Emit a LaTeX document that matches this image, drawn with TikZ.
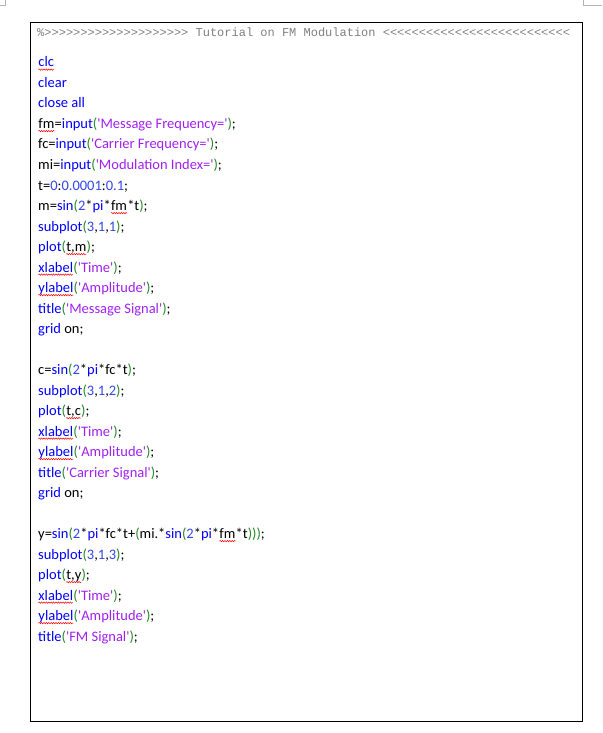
\documentclass[tikz,border=0pt]{standalone}
\usepackage{fontspec}
\usetikzlibrary{decorations.pathmorphing}
\newfontfamily\codefont{Carlito}
\newfontfamily\monofont{Liberation Mono}
\definecolor{kw}{RGB}{0,0,255}
\definecolor{par}{RGB}{34,139,34}
\definecolor{str}{RGB}{160,32,240}
\definecolor{num}{RGB}{50,70,235}
\definecolor{hdr}{RGB}{128,128,128}
\newcommand\K[1]{\textcolor{kw}{#1}}
\newcommand\Pp[1]{\textcolor{par}{#1}}
\newcommand\Ss[1]{\textcolor{str}{#1}}
\newcommand\N[1]{\textcolor{num}{#1}}
\tikzset{squig/.style={red,line width=0.5pt,decorate,decoration={snake,amplitude=0.7pt,segment length=2.4pt}}}
\newcommand\sqc[2]{\tikz[baseline=(s.base)]{\node[inner sep=0pt,outer sep=0pt,anchor=center,text=#1] (s) {#2}; \draw[squig] ([yshift=-2.6pt]s.base west) -- ([yshift=-2.6pt]s.base east);}}
\newcommand\sq[1]{\sqc{black}{#1}}
\newcommand\sqk[1]{\sqc{kw}{#1}}
\tikzset{code/.style={anchor=base west,inner sep=0pt,font=\codefont\fontsize{14.5}{17}\selectfont}}
\begin{document}
\begin{tikzpicture}[x=1pt,y=-1pt]
\useasboundingbox (0,0) rectangle (602,733);
\draw[gray!60,line width=0.8pt] (0,5.5) -- (5.5,5.5) -- (5.5,0);
\draw[gray!60,line width=0.8pt] (602,5.5) -- (583.5,5.5) -- (583.5,0);
\node[draw=black,line width=0.9pt,minimum width=552pt,minimum height=698pt,inner sep=0pt,anchor=north west] (frame) at (29.5,22.5) {};
\node[anchor=base west,inner sep=0pt,text=hdr,font=\monofont\fontsize{12}{14}\selectfont] (hdr) at (37,37) {\%>>>>>>>>>>>>>>>>>>>> Tutorial on FM Modulation <<<<<<<<<<<<<<<<<<<<<<<<<<};
\def\L#1#2#3{\node[code] (#1) at (38,#2) {#3};}
\L{l1}{67}{\sqk{clc}}
\L{l2}{87.5}{\K{clear}}
\L{l3}{108}{\K{close all}}
\L{l4}{128.5}{\sq{fm}=\K{input}\Pp{(}\Ss{'Message Frequency='}\Pp{)};}
\L{l5}{149}{fc=\K{input}\Pp{(}\Ss{'Carrier Frequency='}\Pp{)};}
\L{l6}{169.5}{mi=\K{input}\Pp{(}\Ss{'Modulation Index='}\Pp{)};}
\L{l7}{190}{t=\N{0}:\N{0.0001}:\N{0.1};}
\L{l8}{210.5}{m=\K{sin}\Pp{(}\N{2}*\K{pi}*\sq{fm}*t\Pp{)};}
\L{l9}{231}{\K{subplot}\Pp{(}\N{3},\N{1},\N{1}\Pp{)};}
\L{l10}{251.5}{\K{plot}\Pp{(}\sq{t,m}\Pp{)};}
\L{l11}{272}{\sqk{xlabel}\Pp{(}\Ss{'Time'}\Pp{)};}
\L{l12}{292.5}{\sqk{ylabel}\Pp{(}\Ss{'Amplitude'}\Pp{)};}
\L{l13}{313}{\K{title}\Pp{(}\Ss{'Message Signal'}\Pp{)};}
\L{l14}{333.5}{\K{grid} on;}
\L{l15}{374.5}{c=\K{sin}\Pp{(}\N{2}*\K{pi}*fc*t\Pp{)};}
\L{l16}{395}{\K{subplot}\Pp{(}\N{3},\N{1},\N{2}\Pp{)};}
\L{l17}{415.5}{\K{plot}\Pp{(}\sq{t,c}\Pp{)};}
\L{l18}{436}{\sqk{xlabel}\Pp{(}\Ss{'Time'}\Pp{)};}
\L{l19}{456.5}{\sqk{ylabel}\Pp{(}\Ss{'Amplitude'}\Pp{)};}
\L{l20}{477}{\K{title}\Pp{(}\Ss{'Carrier Signal'}\Pp{)};}
\L{l21}{497.5}{\K{grid} on;}
\L{l22}{538.5}{y=\K{sin}\Pp{(}\N{2}*\K{pi}*fc*t+\Pp{(}mi.*\K{sin}\Pp{(}\N{2}*\K{pi}*\sq{fm}*t\Pp{)))};}
\L{l23}{559}{\K{subplot}\Pp{(}\N{3},\N{1},\N{3}\Pp{)};}
\L{l24}{579.5}{\K{plot}\Pp{(}\sq{t,y}\Pp{)};}
\L{l25}{600}{\sqk{xlabel}\Pp{(}\Ss{'Time'}\Pp{)};}
\L{l26}{620.5}{\sqk{ylabel}\Pp{(}\Ss{'Amplitude'}\Pp{)};}
\L{l27}{641}{\K{title}\Pp{(}\Ss{'FM Signal'}\Pp{)};}
\end{tikzpicture}
\end{document}
